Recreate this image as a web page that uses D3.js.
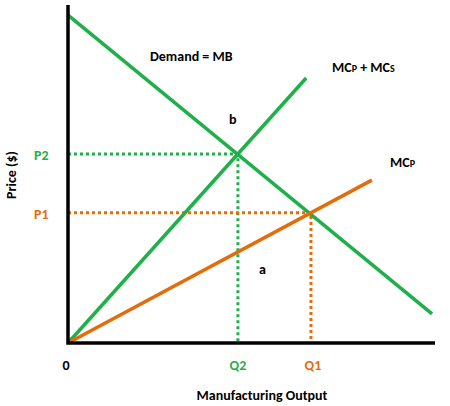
<!DOCTYPE html><html><head><script src="https://cdn.jsdelivr.net/npm/d3@7"></script>
<style>body{margin:0;background:#fff}text{font-family:Calibri,Carlito,"Liberation Sans",Arial,sans-serif;font-weight:bold;font-size:14px}</style></head><body>
<svg id="c" width="450" height="406"></svg>
<script>
const demand=[[0,97],[99.2,8.6]];
const mcSocial=[[0,0],[64.9,78.4]];
const mcPrivate=[[0,0],[82.8,48.2]];
const eq2={q:46.3,p:55.9}, eq1={q:66.2,p:38.5};
const green="#1fb04a", orange="#e46c0a";
const svg=d3.select("#c");
const x=d3.scaleLinear().domain([0,100]).range([68,435]);
const y=d3.scaleLinear().domain([0,100]).range([343,5]);
const line=d3.line().x(d=>x(d[0])).y(d=>y(d[1]));
function dotted(pts,col){svg.append("path").attr("d",line(pts)).attr("stroke",col).attr("stroke-width",3).attr("stroke-dasharray","3,3").attr("fill","none");}
dotted([[0,eq2.p],[eq2.q,eq2.p],[eq2.q,0]],green);
dotted([[0,eq1.p],[eq1.q,eq1.p],[eq1.q,0]],orange);
[[demand,green],[mcSocial,green],[mcPrivate,orange]].forEach(([d,c])=>svg.append("path").attr("d",line(d)).attr("stroke",c).attr("stroke-width",3.5).attr("fill","none"));
svg.append("path").attr("d",line([[0,100],[0,0],[100,0]])).attr("stroke","#000").attr("stroke-width",3.5).attr("fill","none");
function t(s,px,py,col,anchor){return svg.append("text").attr("x",px).attr("y",py).attr("fill",col||"#000").attr("text-anchor",anchor||"start").text(s);}
t("Demand = MB",150,61);
const a=t("MC",332,72);a.append("tspan").attr("font-size",10).text("P");a.append("tspan").text(" + MC");a.append("tspan").attr("font-size",10).text("S");
const b=t("MC",390,167);b.append("tspan").attr("font-size",10).text("P");
t("b",229,124);t("a",259,274);
t("P2",34,160,green);t("P1",34,219,orange);
t("0",66,370,"#000","middle");t("Q2",x(eq2.q),370,green,"middle");t("Q1",x(eq1.q)+2,370,orange,"middle");
t("Manufacturing Output",262,400,"#000","middle");
t("Price ($)",0,0,"#000","middle").attr("transform","translate(16,175) rotate(-90)");
</script></body></html>
